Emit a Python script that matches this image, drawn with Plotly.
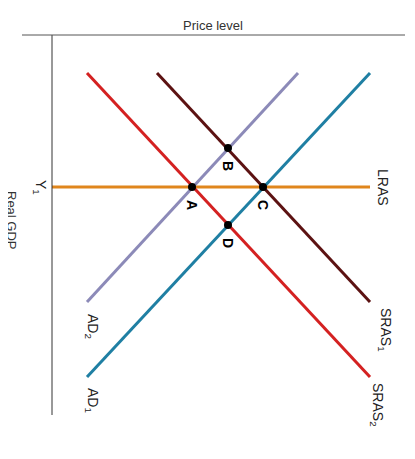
import plotly.graph_objects as go

# curve endpoints (x, y) in page-like units, chart is drawn rotated
curves = ["SRAS2", "SRAS1", "AD2", "AD1"]
curve_x = [[87, 370], [157, 370], [298, 87], [370, 87]]
curve_y = [[73, 377], [73, 302], [73, 302], [73, 377]]
curve_colors = ["#d42121", "#5c1212", "#8c8ab8", "#1f7fa3"]
curve_labels = ["SRAS<sub>2</sub>", "SRAS<sub>1</sub>", "AD<sub>2</sub>", "AD<sub>1</sub>"]
label_x = [377, 385, 92, 92]
label_y = [405, 330, 326, 400]

lras_x = [52, 370]
lras_y = [187, 187]

pt_names = ["B", "A", "C", "D"]
pt_x = [228, 192, 263, 228]
pt_y = [148, 187, 187, 225]

fig = go.Figure()
fig.add_trace(go.Scatter(x=lras_x, y=lras_y, mode="lines",
                         line=dict(color="#e0861c", width=3)))
for i in range(len(curves)):
    fig.add_trace(go.Scatter(x=curve_x[i], y=curve_y[i], mode="lines",
                             line=dict(color=curve_colors[i], width=3)))
    fig.add_annotation(x=label_x[i], y=label_y[i], text=curve_labels[i],
                       textangle=90, showarrow=False,
                       font=dict(size=14, color="#222"))
fig.add_trace(go.Scatter(x=pt_x, y=pt_y, mode="markers",
                         marker=dict(color="black", size=8)))
for n, x, y in zip(pt_names, pt_x, pt_y):
    fig.add_annotation(x=x, y=y + 18, text="<b>" + n + "</b>", textangle=90,
                       showarrow=False, font=dict(size=14, color="black"))

# axes drawn as lines
fig.add_shape(type="line", x0=52, x1=52, y0=35, y1=415, line=dict(color="#333", width=1))
fig.add_shape(type="line", x0=22, x1=405, y0=35, y1=35, line=dict(color="#555", width=1))
fig.add_annotation(x=213, y=25, text="Price level", showarrow=False,
                   font=dict(size=13, color="#333"))
fig.add_annotation(x=383, y=187, text="LRAS", textangle=90, showarrow=False,
                   font=dict(size=14, color="#222"))
fig.add_annotation(x=40, y=187, text="Y<sub>1</sub>", textangle=90, showarrow=False,
                   font=dict(size=14, color="#222"))
fig.add_annotation(x=12, y=220, text="Real GDP", textangle=90, showarrow=False,
                   font=dict(size=13, color="#333"))

fig.update_layout(width=415, height=459, margin=dict(l=0, r=0, t=0, b=0),
                  showlegend=False, plot_bgcolor="white", paper_bgcolor="white",
                  font=dict(family="Liberation Sans, Arial"))
# page offset of ~8px compensated in the ranges
fig.update_xaxes(range=[8, 423], visible=False)
fig.update_yaxes(range=[467, 8], visible=False)
fig.write_html("out.html")
